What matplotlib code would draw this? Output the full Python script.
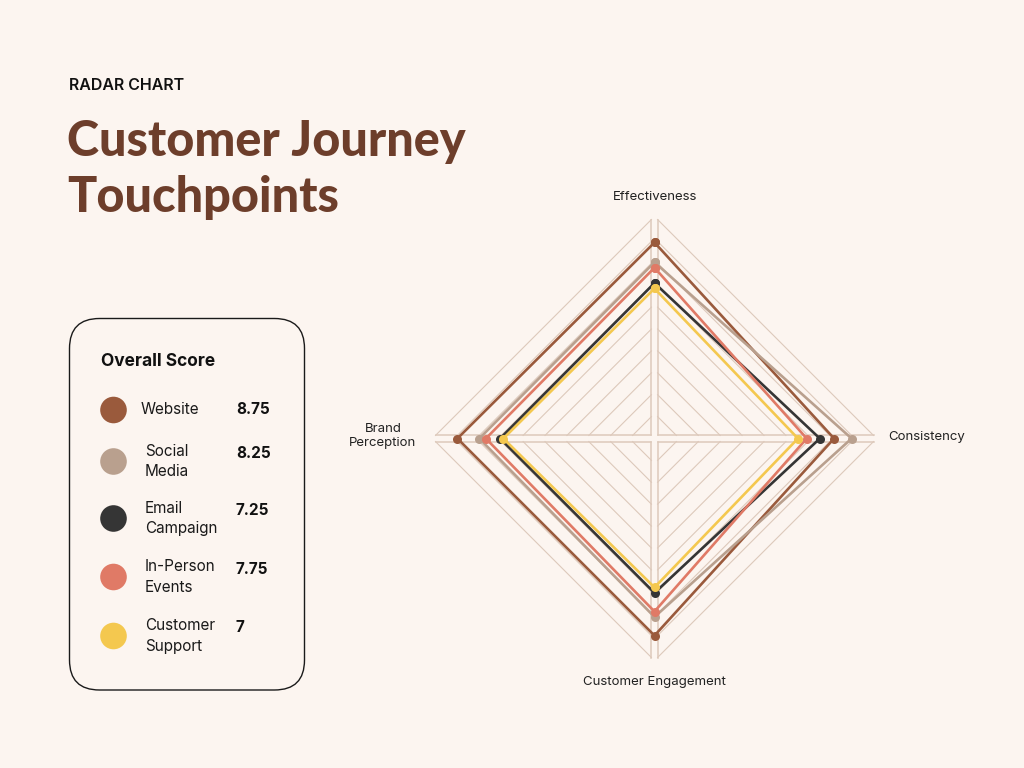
import numpy as np
import matplotlib
matplotlib.use("Agg")
import matplotlib.pyplot as plt
from matplotlib.patches import FancyBboxPatch, Circle

# ---- data ----
categories = ["Effectiveness", "Consistency", "Customer Engagement", "Brand\nPerception"]
series = ["Website", "Social\nMedia", "Email\nCampaign", "In-Person\nEvents", "Customer\nSupport"]
website = [8.95, 8.2, 9.0, 9.0]
social_media = [8.05, 9.0, 8.15, 8.0]
email_campaign = [7.1, 7.55, 7.05, 7.05]
in_person = [7.8, 6.95, 7.9, 7.7]
customer_support = [6.85, 6.55, 6.8, 6.9]
scores = ["8.75", "8.25", "7.25", "7.75", "7"]

values = [website, social_media, email_campaign, in_person, customer_support]
colors = ["#9A5A3C", "#B9A08E", "#353535", "#E07A66", "#F4C84F"]
bg = "#FCF5F0"
grid_col = "#DDC9BB"
title_col = "#6D3E2B"
font = "Inter"

fig = plt.figure(figsize=(10.24, 7.68), dpi=100, facecolor=bg)

# overlay in pixel units for the text and the legend card
ov = fig.add_axes([0, 0, 1, 1])
ov.set_xlim(0, 1024)
ov.set_ylim(768, 0)
ov.axis("off")
ov.patch.set_alpha(0)

ov.text(69, 85, "RADAR CHART", fontsize=11.5, fontweight="semibold", family=font,
        color="#111111", va="center", ha="left")
ov.text(67, 141, "Customer Journey", fontsize=35, fontweight="black", family="Lato",
        color=title_col, va="center", ha="left")
ov.text(67, 197, "Touchpoints", fontsize=35, fontweight="black", family="Lato",
        color=title_col, va="center", ha="left")

card = FancyBboxPatch((69.5, 318.5), 235, 371.5, boxstyle="round,pad=0,rounding_size=30",
                      facecolor=bg, edgecolor="#1a1a1a", linewidth=1.0)
ov.add_patch(card)
ov.text(101, 361, "Overall Score", fontsize=12.5, fontweight="bold", family=font,
        color="#111111", va="center", ha="left")

dot_y = [410, 461.5, 518.5, 577, 636]
for i, name in enumerate(series):
    y = dot_y[i]
    ov.add_patch(Circle((113.5, y), 13.3, facecolor=colors[i], edgecolor="none"))
    if "\n" in name:
        ov.text(145, y, name, fontsize=11, family=font, color="#1a1a1a",
                va="center", ha="left", linespacing=1.45)
        ov.text(236, y - 8, scores[i], fontsize=11, fontweight="bold", family=font,
                color="#111111", va="center", ha="left")
    else:
        ov.text(141, y, name, fontsize=11, family=font, color="#1a1a1a",
                va="center", ha="left")
        ov.text(236, y, scores[i], fontsize=11, fontweight="bold", family=font,
                color="#111111", va="center", ha="left")

# ---- radar ----
cx, cy, unit = 654.5, 438.5, 21.9
half = 11
ax = fig.add_axes([(cx - half * unit) / 1024, (768 - cy - half * unit) / 768,
                   2 * half * unit / 1024, 2 * half * unit / 768])
ax.set_xlim(-half, half)
ax.set_ylim(-half, half)
ax.axis("off")
ax.patch.set_alpha(0)

# quadrant grid, each quadrant pulled a little away from the centre
g = 0.14
for sx in (-1, 1):
    for sy in (-1, 1):
        for k in range(1, 11):
            ax.plot([sx * g, sx * k], [sy * k, sy * g], color=grid_col, lw=0.8, zorder=1)
        ax.plot([sx * g, sx * g], [sy * g, sy * 10], color=grid_col, lw=1.1, zorder=1)
        ax.plot([sx * g, sx * 10], [sy * g, sy * g], color=grid_col, lw=1.1, zorder=1)

angles = np.pi / 2 - np.arange(4) * np.pi / 2
for i, vals in enumerate(values):
    v = np.array(vals + vals[:1], dtype=float)
    a = np.concatenate([angles, angles[:1]])
    ax.plot(v * np.cos(a), v * np.sin(a), color=colors[i], lw=1.9, zorder=3 + i,
            marker="o", markersize=6.5, markeredgewidth=0)

ov.text(655, 197, categories[0], fontsize=9.5, family=font, color="#222222",
        ha="center", va="center")
ov.text(888, 437, categories[1], fontsize=9.5, family=font, color="#222222",
        ha="left", va="center")
ov.text(654, 682, categories[2], fontsize=9.5, family=font, color="#222222",
        ha="center", va="center")
ov.text(383, 436, categories[3], fontsize=9.5, family=font, color="#222222",
        ha="center", va="center", linespacing=1.3)

fig.savefig("out.png", dpi=100, facecolor=bg)
